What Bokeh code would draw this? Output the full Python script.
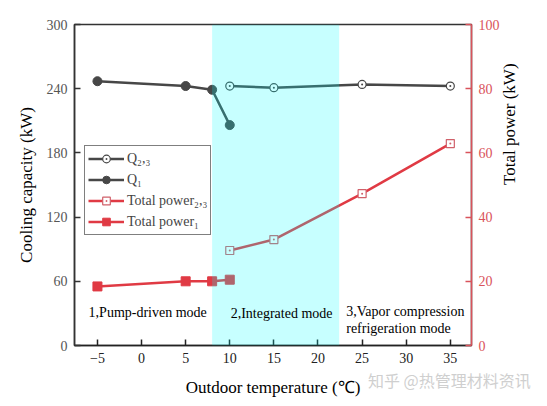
import math
from bokeh.plotting import figure
from bokeh.layouts import column
from bokeh.models import (Range1d, LinearAxis, FixedTicker, BoxAnnotation, Label,
                          Legend, LegendItem, Div)
from bokeh.embed import file_html
from bokeh.resources import INLINE

# Data
temp_q1 = [-5, 5, 8, 10]
q1 = [247, 242.5, 239, 206]
temp_q23 = [10, 15, 25, 35]
q23 = [242.5, 241, 244, 242.5]
temp_p1 = [-5, 5, 8, 10]
power1 = [18.4, 20.0, 20.0, 20.5]
temp_p23 = [10, 15, 25, 35]
power23 = [29.6, 33.0, 47.3, 62.9]

x_ticks = [-5, 0, 5, 10, 15, 20, 25, 30, 35]
left_ticks = [0, 60, 120, 180, 240, 300]
right_ticks = [0, 20, 40, 60, 80, 100]

FONT = "Liberation Serif"
GRAY = "#474747"
RED = "#e03a44"
AXRED = "#d9535b"

p = figure(width=547, height=406, output_backend="svg", toolbar_location=None,
           tools="", x_range=Range1d(-7.6, 37.4), y_range=Range1d(0, 300),
           min_border_left=74, min_border_right=76, min_border_top=24,
           min_border_bottom=61, margin=0)
p.grid.grid_line_color = None
p.outline_line_color = "#333333"
p.outline_line_width = 1.5

p.extra_y_ranges = {"power": Range1d(0, 100)}
right = LinearAxis(y_range_name="power", ticker=FixedTicker(ticks=right_ticks),
                   axis_label="Total power (kW)")
p.add_layout(right, "right")

p.xaxis.ticker = FixedTicker(ticks=x_ticks)
p.xaxis.axis_label = "Outdoor temperature (℃)"
p.yaxis[0].ticker = FixedTicker(ticks=left_ticks)
p.yaxis[0].axis_label = "Cooling capacity (kW)"

p.axis.axis_line_width = 1.5
p.axis.major_tick_line_width = 1.5
p.axis.major_tick_in = 6
p.axis.major_tick_out = 0
p.axis.minor_tick_in = 0
p.axis.minor_tick_out = 0
p.axis.major_label_text_font = FONT
p.axis.major_label_text_font_size = "14px"
p.axis.major_label_standoff = 7
p.axis.axis_label_text_font = FONT
p.axis.axis_label_text_font_size = "17px"
p.axis.axis_label_text_font_style = "normal"
p.axis.axis_label_text_color = "black"

p.xaxis.axis_line_color = "#222222"
p.xaxis.major_tick_line_color = "#222222"
p.xaxis.major_label_text_color = "#222222"
p.xaxis.axis_label_standoff = 12

p.yaxis[0].axis_line_color = "#333333"
p.yaxis[0].major_tick_line_color = "#333333"
p.yaxis[0].major_label_text_color = "#555555"
p.yaxis[0].axis_label_standoff = 8

right.axis_line_color = AXRED
right.major_tick_line_color = AXRED
right.major_label_text_color = AXRED
right.axis_label_standoff = 7
right.axis_label_orientation = math.pi / 2

# Series
l_q23 = p.line(temp_q23, q23, line_color=GRAY, line_width=2.5)
s_q23 = p.scatter(temp_q23, q23, marker="circle_dot", size=8, fill_color="white",
                  line_color=GRAY, line_width=1.2)
l_q1 = p.line(temp_q1, q1, line_color=GRAY, line_width=2.5)
s_q1 = p.scatter(temp_q1, q1, marker="circle", size=9, fill_color=GRAY,
                 line_color=GRAY)
l_p23 = p.line(temp_p23, power23, line_color=RED, line_width=2.5, y_range_name="power")
s_p23 = p.scatter(temp_p23, power23, marker="square_dot", size=8, fill_color="white",
                  line_color="#d0606a", line_width=1.2, y_range_name="power")
l_p1 = p.line(temp_p1, power1, line_color=RED, line_width=2.5, y_range_name="power")
s_p1 = p.scatter(temp_p1, power1, marker="square", size=9, fill_color=RED,
                 line_color=RED, y_range_name="power")

# Integrated-mode band, drawn over the lines
p.add_layout(BoxAnnotation(left=8, right=22.4, fill_color="#00ffff", fill_alpha=0.22,
                           line_alpha=0))

# Mode labels
for txt, x, y in [("1,Pump-driven mode", -6.0, 31),
                  ("2,Integrated mode", 10.1, 30),
                  ("3,Vapor compression", 23.2, 32),
                  ("refrigeration mode", 23.2, 16)]:
    p.add_layout(Label(x=x, y=y, text=txt, text_font=FONT, text_font_size="14px",
                       text_baseline="middle", text_color="black"))

legend = Legend(items=[
    LegendItem(label="Q₂,₃", renderers=[l_q23, s_q23]),
    LegendItem(label="Q₁", renderers=[l_q1, s_q1]),
    LegendItem(label="Total power₂,₃", renderers=[l_p23, s_p23]),
    LegendItem(label="Total power₁", renderers=[l_p1, s_p1]),
], location=(10, 110))
legend.label_text_font = FONT
legend.label_text_font_size = "14px"
legend.glyph_width = 36
legend.glyph_height = 19
legend.label_height = 19
legend.spacing = 2
legend.padding = 3
legend.margin = 0
legend.label_standoff = 3
legend.border_line_color = "black"
legend.border_line_width = 1
p.add_layout(legend)

# watermark, laid over the bottom right corner of the figure
mark = Div(text="知乎 @热管理材料资讯", width=180, height=24, margin=(-38, 0, 0, 368),
           styles={"font-family": "Noto Sans CJK SC", "font-size": "16px",
                   "color": "#cfcfcf", "line-height": "24px", "white-space": "nowrap"})

layout = column(p, mark, spacing=0)

open("out.html", "w").write(file_html(layout, INLINE))
